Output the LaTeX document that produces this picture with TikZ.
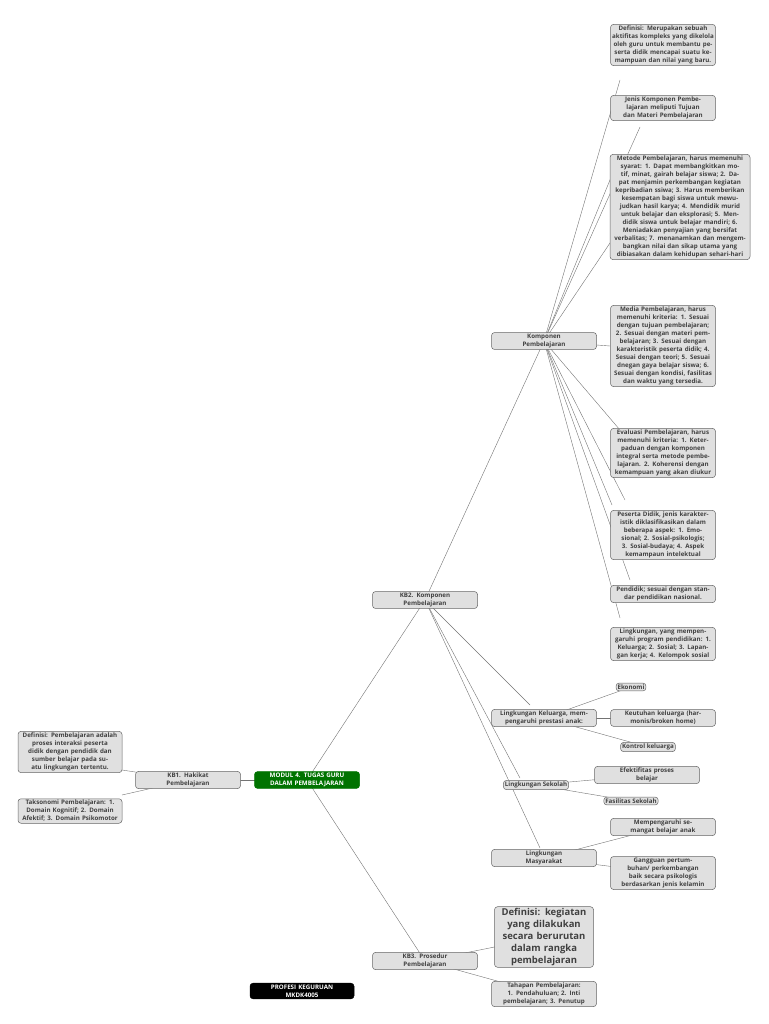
\documentclass[tikz,border=0pt]{standalone}
\usepackage{fontspec}
\setmainfont{Open Sans}[UprightFont=* Bold]
\begin{document}
\begin{tikzpicture}[x=1pt,y=-1pt,
  box/.style={draw=gray!80!black,fill=black!12,rounded corners=3pt,align=center,font=\fontsize{6.2}{8}\selectfont,text=black!75,inner sep=1.5pt,line width=0.5pt},
  edge/.style={draw=black!55,line width=0.4pt}]
\useasboundingbox (0,0) rectangle (768,1024);
% edges
\begin{scope}[on background layer/.style={}]
\coordinate (kc) at (544,341);
\foreach \p in {(620,80),(640,127),(612,175),(612,240),(610,346),(620,430),(612,505),(625,500),(630,580),(620,618)}
  \draw[edge] (kc) -- \p;
\draw[edge] (425,600) -- (kc);
\draw[edge] (425,600) -- (530,705);
\draw[edge] (425,600) -- (520,778);
\draw[edge] (425,600) -- (540,848);
\draw[edge] (307,780) -- (425,600);
\draw[edge] (307,780) -- (425,961);
\draw[edge] (307,780) -- (188,780);
\draw[edge] (188,780) -- (122,770);
\draw[edge] (188,780) -- (122,795);
\draw[edge] (544,718) -- (631,687);
\draw[edge] (544,718) -- (663,718);
\draw[edge] (544,718) -- (648,747);
\draw[edge] (536,785) -- (647,775);
\draw[edge] (536,785) -- (631,801);
\draw[edge] (544,858) -- (663,827);
\draw[edge] (544,858) -- (663,873);
\draw[edge] (425,961) -- (544,937);
\draw[edge] (425,961) -- (544,994);
\end{scope}
% nodes
\node[box,text width=102pt] (def1) at (663,45) {Definisi: Merupakan sebuah aktifitas kompleks yang dikelola oleh guru untuk membantu peserta didik mencapai suatu kemampuan dan nilai yang baru.};
\node[box,text width=102pt] (jenis) at (663,108) {Jenis Komponen Pembelajaran meliputi Tujuan dan Materi Pembelajaran};
\node[box,text width=137pt] (metode) at (680,207) {Metode Pembelajaran, harus memenuhi syarat: 1. Dapat membangkitkan motif, minat, gairah belajar siswa; 2. Dapat menjamin perkembangan kegiatan kepribadian ssiwa; 3. Harus memberikan kesempatan bagi siswa untuk mewujudkan hasil karya; 4. Mendidik murid untuk belajar dan eksplorasi; 5. Mendidik siswa untuk belajar mandiri; 6. Meniadakan penyajian yang bersifat verbalitas; 7. menanamkan dan mengembangkan nilai dan sikap utama yang dibiasakan dalam kehidupan sehari-hari};
\node[box,text width=102pt] (media) at (663,346) {Media Pembelajaran, harus memenuhi kriteria: 1. Sesuai dengan tujuan pembelajaran; 2. Sesuai dengan materi pembelajaran; 3. Sesuai dengan karakteristik peserta didik; 4. Sesuai dengan teori; 5. Sesuai dnegan gaya belajar siswa; 6. Sesuai dengan kondisi, fasilitas dan waktu yang tersedia.};
\node[box,text width=102pt] (eval) at (663,453) {Evaluasi Pembelajaran, harus memenuhi kriteria: 1. Keterpaduan dengan komponen integral serta metode pembelajaran. 2. Koherensi dengan kemampuan yang akan diukur};
\node[box,text width=102pt] (peserta) at (663,535) {Peserta Didik, jenis karakteristik diklasifikasikan dalam beberapa aspek: 1. Emosional; 2. Sosial-psikologis; 3. Sosial-budaya; 4. Aspek kemampaun intelektual};
\node[box,text width=102pt] (pendidik) at (663,594) {Pendidik; sesuai dengan standar pendidikan nasional.};
\node[box,text width=102pt] (lingk) at (663,644) {Lingkungan, yang mempengaruhi program pendidikan: 1. Keluarga; 2. Sosial; 3. Lapangan kerja; 4. Kelompok sosial};
\node[box,text width=102pt] (komp) at (544,341) {Komponen\\Pembelajaran};
\node[box,text width=102pt] (kb2) at (425,600) {KB2. Komponen\\Pembelajaran};
\node[box,text width=102pt,fill=green!45!black,draw=green!45!black,text=white] (modul) at (307,780) {MODUL 4. TUGAS GURU DALAM PEMBELAJARAN};
\node[box,text width=102pt] (kb1) at (188,780) {KB1. Hakikat\\Pembelajaran};
\node[box,text width=101pt] (defl) at (70,752) {Definisi: Pembelajaran adalah proses interaksi peserta didik dengan pendidik dan sumber belajar pada suatu lingkungan tertentu.};
\node[box,text width=101pt] (taks) at (70,811) {Taksonomi Pembelajaran: 1. Domain Kognitif; 2. Domain Afektif; 3. Domain Psikomotor};
\node[box,text width=102pt] (kel) at (544,718) {Lingkungan Keluarga, mempengaruhi prestasi anak:};
\node[box] (eko) at (631,687) {Ekonomi};
\node[box,text width=102pt] (keut) at (663,718) {Keutuhan keluarga (harmonis/broken home)};
\node[box] (kontrol) at (648,747) {Kontrol keluarga};
\node[box] (sek) at (536,785) {Lingkungan Sekolah};
\node[box,text width=102pt] (efek) at (647,775) {Efektifitas proses\\belajar};
\node[box] (fas) at (631,801) {Fasilitas Sekolah};
\node[box,text width=102pt] (mas) at (544,858) {Lingkungan\\Masyarakat};
\node[box,text width=102pt] (memp) at (663,827) {Mempengaruhi semangat belajar anak};
\node[box,text width=102pt] (gang) at (663,873) {Gangguan pertumbuhan/ perkembangan baik secara psikologis berdasarkan jenis kelamin};
\node[box,text width=102pt] (kb3) at (425,961) {KB3. Prosedur\\Pembelajaran};
\node[box,text width=96pt,font=\fontsize{9.5}{12}\selectfont] (defk) at (544,937) {Definisi: kegiatan yang dilakukan secara berurutan dalam rangka pembelajaran};
\node[box,text width=102pt] (tahap) at (544,994) {Tahapan Pembelajaran: 1. Pendahuluan; 2. Inti pembelajaran; 3. Penutup};
\node[box,text width=101pt,fill=black,draw=black,text=white] (prof) at (302,991) {PROFESI KEGURUAN\\MKDK4005};
\end{tikzpicture}
\end{document}
